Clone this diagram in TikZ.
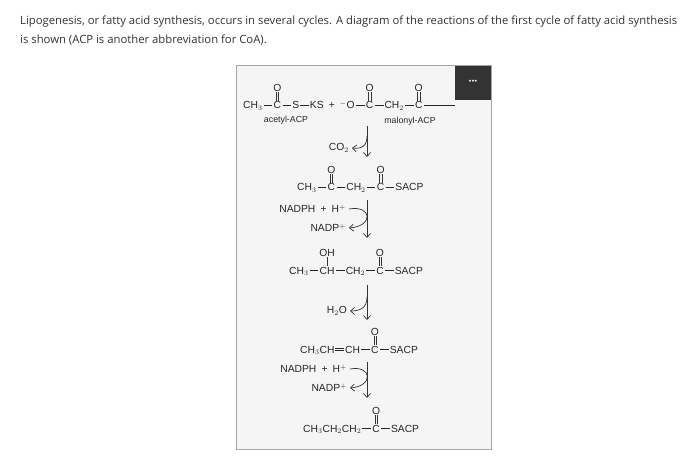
\documentclass[tikz,border=0pt]{standalone}
\usepackage{fontspec}
\setmainfont{Open Sans}
\newfontfamily\chemfont{Liberation Sans}
\usetikzlibrary{arrows.meta}
\newcommand\sbond{\kern1pt\rule[0.62ex]{0.85em}{0.5pt}\kern1pt}
\newcommand\dbond{\kern1pt\raisebox{0.45ex}{\rule{0.85em}{0.5pt}}\kern-0.85em\raisebox{0.85ex}{\rule{0.85em}{0.5pt}}\kern1pt}
\tikzset{
  chem/.style={inner sep=0pt, font=\chemfont\fontsize{10.3}{12}\selectfont, text=black!85},
  seg/.style={chem, anchor=base west},
  rxn/.style={-{Straight Barb[length=4pt,width=7pt]}, line width=0.7pt, black!80},
  intro/.style={inner sep=0pt, anchor=base west, font=\fontsize{11.3}{13}\selectfont, text=black!80},
}
\newcommand\carbonyl[2]{\node[chem] (#2) at ([yshift=14pt]#1.north) {O};
  \draw[black!80,line width=0.5pt] ([xshift=-1.2pt,yshift=1pt]#1.north) -- ([xshift=-1.2pt,yshift=-1pt]#2.south)
    ([xshift=1.2pt,yshift=1pt]#1.north) -- ([xshift=1.2pt,yshift=-1pt]#2.south);}
\begin{document}
\begin{tikzpicture}[x=1pt,y=-1pt]
\fill[white] (0,0) rectangle (700,462);
\useasboundingbox (0,0) rectangle (700,462);
\node[intro] (t1) at (20,25) {Lipogenesis, or fatty acid synthesis, occurs in several cycles. A diagram of the reactions of the first cycle of fatty acid synthesis};
\node[intro] (t2) at (20,44) {is shown (ACP is another abbreviation for CoA).};
\begin{scope}
\clip (236,66) rectangle (491,449);
\fill[black!4] (236,66) rectangle (491,449);
% row 1
\node[seg] (a1) at (243,109) {CH$_3$\sbond};
\node[seg] (a2) at (a1.base east) {C};
\node[seg] (a3) at (a2.base east) {\sbond S\sbond KS\enspace+\enspace$^{-}$O\sbond};
\node[seg] (a4) at (a3.base east) {C};
\node[seg] (a5) at (a4.base east) {\sbond CH$_2$\sbond};
\node[seg] (a6) at (a5.base east) {C};
\node[seg] (a7) at (a6.base east) {\kern1pt\rule[0.62ex]{3em}{0.5pt}};
\carbonyl{a2}{oa2}\carbonyl{a4}{oa4}\carbonyl{a6}{oa6}
\node[chem,font=\chemfont\fontsize{8.8}{10}\selectfont] (lab1) at (286,120) {acetyl-ACP};
\node[chem,font=\chemfont\fontsize{8.8}{10}\selectfont] (lab2) at (410,121) {malonyl-ACP};
% row 2
\node[seg] (b1) at (297,191) {CH$_3$\sbond};
\node[seg] (b2) at (b1.base east) {C};
\node[seg] (b3) at (b2.base east) {\sbond CH$_2$\sbond};
\node[seg] (b4) at (b3.base east) {C};
\node[seg] (b5) at (b4.base east) {\sbond SACP};
\carbonyl{b2}{ob2}\carbonyl{b4}{ob4}
% row 3
\node[seg] (c1) at (289,274) {CH$_3$\sbond};
\node[seg] (c2) at (c1.base east) {CH};
\node[seg] (c3) at (c2.base east) {\sbond CH$_2$\sbond};
\node[seg] (c4) at (c3.base east) {C};
\node[seg] (c5) at (c4.base east) {\sbond SACP};
\carbonyl{c4}{oc4}
\node[chem] (oh) at ([yshift=14pt]c2.north) {OH};
\draw[black!80,line width=0.5pt] ([yshift=1pt]c2.north) -- ([yshift=-1pt]oh.south);
% row 4
\node[seg] (d1) at (300,353) {CH$_3$CH\dbond CH\sbond};
\node[seg] (d2) at (d1.base east) {C};
\node[seg] (d3) at (d2.base east) {\sbond SACP};
\carbonyl{d2}{od2}
% row 5
\node[seg] (e1) at (303,432) {CH$_3$CH$_2$CH$_2$\sbond};
\node[seg] (e2) at (e1.base east) {C};
\node[seg] (e3) at (e2.base east) {\sbond SACP};
\carbonyl{e2}{oe2}
% side species
\node[chem,anchor=east] (co2) at (349,148) {CO$_2$};
\node[chem,anchor=east] (nadph1) at (346,209) {NADPH\enspace+\enspace H$^{+}$};
\node[chem,anchor=east] (nadp1) at (346,228) {NADP$^{+}$};
\node[chem,anchor=east] (h2o) at (347,311) {H$_2$O};
\node[chem,anchor=east] (nadph2) at (347,369) {NADPH\enspace+\enspace H$^{+}$};
\node[chem,anchor=east] (nadp2) at (347,388) {NADP$^{+}$};
% arrows
\coordinate (s1) at (367,126); \coordinate (f1) at (367,157);
\draw[rxn] (s1) -- (f1);
\draw[rxn] (367,136) .. controls (367,146) and (362,149) .. ([xshift=3pt]co2.east);
\coordinate (s2) at (367,200); \coordinate (f2) at (367,238);
\draw[rxn] ([xshift=3pt]nadph1.east) .. controls (372,205) and (374,226) .. ([xshift=3pt]nadp1.east);
\draw[rxn] (s2) -- (f2);
\coordinate (s3) at (367,285); \coordinate (f3) at (367,320);
\draw[rxn] (s3) -- (f3);
\draw[rxn] (367,297) .. controls (367,308) and (360,311) .. ([xshift=3pt]h2o.east);
\coordinate (s4) at (367,362); \coordinate (f4) at (367,398);
\draw[rxn] (s4) -- (f4);
\draw[rxn] ([xshift=3pt]nadph2.east) .. controls (372,365) and (374,386) .. ([xshift=3pt]nadp2.east);
% button
\fill[black!80] (455,66) rectangle (491,100);
\node[text=white,font=\chemfont\fontsize{7}{7}\selectfont] (dots) at (473,82) {\textbullet\kern0.5pt\textbullet\kern0.5pt\textbullet};
\end{scope}
\draw[black!35,line width=1pt] (236,66) rectangle (491,449);
\end{tikzpicture}
\end{document}
